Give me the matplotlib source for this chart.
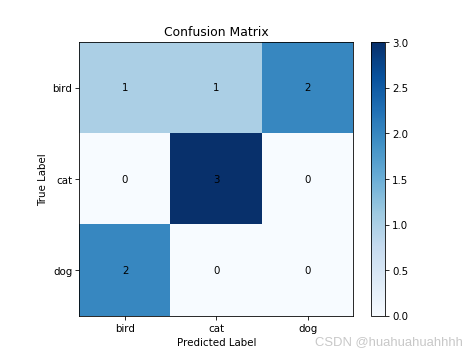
import matplotlib
matplotlib.use("Agg")
import matplotlib.pyplot as plt
import numpy as np

classes = ["bird", "cat", "dog"]
row_bird = [1, 1, 2]
row_cat = [0, 3, 0]
row_dog = [2, 0, 0]
cm = np.array([row_bird, row_cat, row_dog])

fig = plt.figure(figsize=(6.4, 4.8), dpi=474 / 6.4)
plt.imshow(cm, interpolation="nearest", cmap=plt.cm.Blues)
plt.title("Confusion Matrix")
plt.colorbar()
ticks = np.arange(len(classes))
plt.xticks(ticks, classes)
plt.yticks(ticks, classes)
for i in range(cm.shape[0]):
    for j in range(cm.shape[1]):
        plt.text(j, i, str(cm[i, j]), ha="center", va="center", color="black")
plt.xlabel("Predicted Label")
plt.ylabel("True Label")
fig.text(0.977, 0.022, "CSDN @huahuahuahhhh", ha="right", va="bottom",
         color="#c8c8c8", fontsize=12.6, family=["Liberation Sans", "DejaVu Sans"])
fig.savefig("out.png", dpi=474 / 6.4)
